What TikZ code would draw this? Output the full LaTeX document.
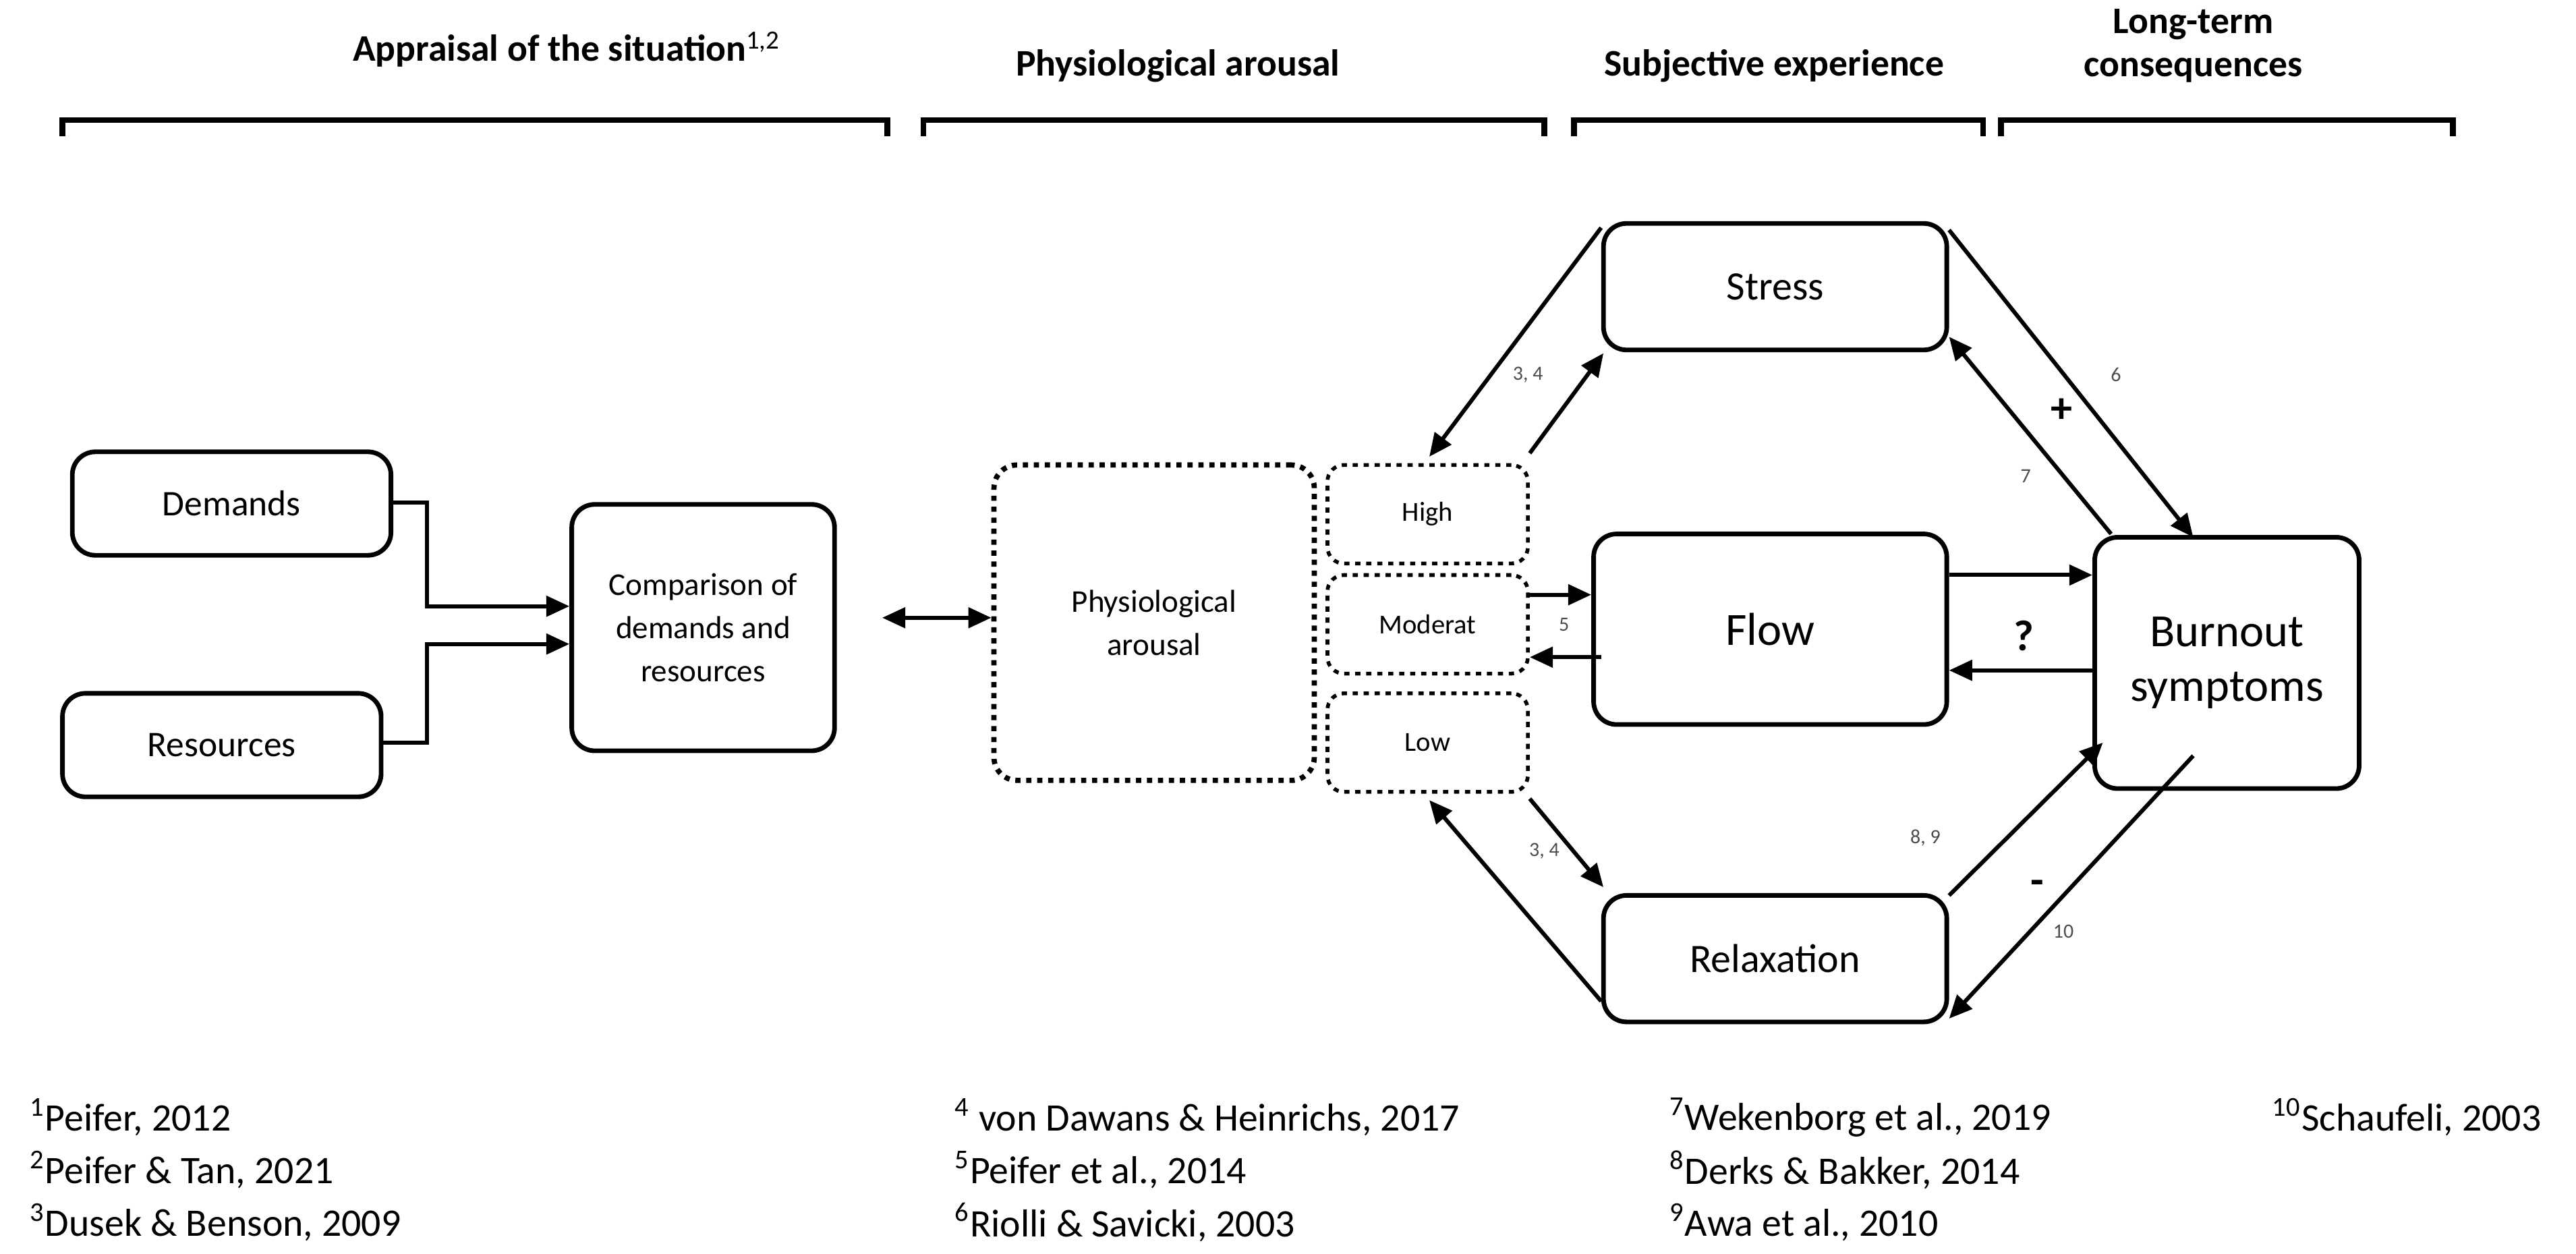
\documentclass[tikz,border=0pt]{standalone}
\usepackage{fontspec}
\setmainfont{Carlito}
\usetikzlibrary{arrows.meta}
\begin{document}
\begin{tikzpicture}[x=0.02cm,y=-0.02cm,
  box/.style={draw,line width=1.6pt,rounded corners=0.28cm,inner sep=0pt,align=center},
  dbox/.style={draw,line width=1.8pt,dotted,rounded corners=0.28cm,inner sep=0pt,align=center},
  arr/.style={line width=1.4pt,-{Triangle[length=8pt,width=7pt]}},
  darr/.style={line width=1.4pt,{Triangle[length=8pt,width=7pt]}-{Triangle[length=8pt,width=7pt]}},
  brk/.style={line width=2pt},
  hd/.style={font=\fontsize{13}{15}\selectfont\bfseries,align=center},
  sm/.style={font=\fontsize{7}{8}\selectfont,text=black!70},
  ref/.style={font=\fontsize{13.5}{15}\selectfont,anchor=west}]
\useasboundingbox (0,0) rectangle (1568,763);
% headings
\node[hd] (h1) at (345,30) {Appraisal of the situation\textsuperscript{\mdseries 1,2}};
\node[hd] (h2) at (717,40) {Physiological arousal};
\node[hd] (h3) at (1080,40) {Subjective experience};
\node[hd] (h4) at (1335,28) {Long-term\\consequences};
% brackets
\draw[brk] (38,83) -- (38,73) -- (540,73) -- (540,83);
\draw[brk] (562,83) -- (562,73) -- (940,73) -- (940,83);
\draw[brk] (958,83) -- (958,73) -- (1207,73) -- (1207,83);
\draw[brk] (1218,83) -- (1218,73) -- (1493,73) -- (1493,83);
% nodes
\node[box,minimum width=3.88cm,minimum height=1.26cm,font=\fontsize{12.5}{14}\selectfont] (dem) at (141,306.5) {Demands};
\node[box,minimum width=3.88cm,minimum height=1.26cm,font=\fontsize{12.5}{14}\selectfont] (res) at (135,453.5) {Resources};
\node[box,minimum width=3.2cm,minimum height=3.0cm,font=\fontsize{11}{15}\selectfont] (cmp) at (428,382) {Comparison of\\demands and\\resources};
\node[dbox,minimum width=3.9cm,minimum height=3.84cm,font=\fontsize{11}{15}\selectfont] (phy) at (702.5,379) {Physiological\\arousal};
\node[dbox,line width=1.3pt,rounded corners=0.2cm,minimum width=2.44cm,minimum height=1.2cm,font=\fontsize{9.5}{11}\selectfont] (hi) at (869,313) {High};
\node[dbox,line width=1.3pt,rounded corners=0.2cm,minimum width=2.44cm,minimum height=1.2cm,font=\fontsize{9.5}{11}\selectfont] (mo) at (869,380) {Moderat};
\node[dbox,line width=1.3pt,rounded corners=0.2cm,minimum width=2.44cm,minimum height=1.2cm,font=\fontsize{9.5}{11}\selectfont] (lo) at (869,452) {Low};
\node[box,minimum width=4.18cm,minimum height=1.54cm,font=\fontsize{14}{16}\selectfont] (st) at (1080.5,174.5) {Stress};
\node[box,minimum width=4.3cm,minimum height=2.32cm,font=\fontsize{16}{18}\selectfont] (fl) at (1077.5,383) {Flow};
\node[box,minimum width=4.18cm,minimum height=1.54cm,font=\fontsize{14}{16}\selectfont] (rx) at (1080.5,583.5) {Relaxation};
\node[box,minimum width=3.22cm,minimum height=3.06cm,font=\fontsize{16}{19}\selectfont] (bo) at (1355.5,403.5) {Burnout\\symptoms};
% coordinates
\coordinate (dj) at (260,306); \coordinate (rj) at (260,452);
% connectors
\draw[arr] (dem.east |- dj) -- (dj) -- (260,369) -- (cmp.west |- 0,369);
\draw[arr] (res.east |- rj) -- (rj) -- (260,392) -- (cmp.west |- 0,392);
\draw[darr] (537,376) -- (phy.west |- 0,376);
\draw[arr] (st.north west) ++(0,4) -- (870,278);
\draw[arr] (hi.north east) ++(0,-6) -- (976,215);
\draw[arr] (mo.east |- 0,362) -- (fl.west |- 0,362);
\draw[arr] (fl.west |- 0,400) ++(6,0) -- (mo.east |- 0,400);
\draw[arr] (lo.south east) ++(0,3) -- (976,540);
\draw[arr] (rx.south west) ++(0,-14) -- (870,487);
\draw[arr] (st.east |- 0,140) -- (1335,327);
\draw[arr] (1285,325) -- (st.east |- 0,205);
\draw[arr] (fl.east |- 0,350) -- (bo.west |- 0,350);
\draw[arr] (bo.west |- 0,408) -- (fl.east |- 0,408);
\draw[arr] (rx.east |- 0,545) -- (1280,452);
\draw[arr] (1335,460) -- (rx.east |- 0,620);
% labels
\node[sm] (l1) at (930,228) {3, 4};
\node[sm] (l2) at (952,380) {5};
\node[sm] (l3) at (940,518) {3, 4};
\node[sm] (l4) at (1288,228) {6};
\node[sm] (l5) at (1233,290) {7};
\node[sm] (l6) at (1172,510) {8, 9};
\node[sm] (l7) at (1256,567) {10};
\node[font=\fontsize{15}{17}\selectfont\bfseries] (pl) at (1255,250) {+};
\node[font=\fontsize{15}{17}\selectfont\bfseries] (qm) at (1232,387) {?};
\node[font=\fontsize{15}{17}\selectfont\bfseries] (mi) at (1240,540) {-};
% references
\node[ref] (r1) at (12,680) {\textsuperscript{1}Peifer, 2012};
\node[ref] (r2) at (12,712) {\textsuperscript{2}Peifer \& Tan, 2021};
\node[ref] (r3) at (12,744) {\textsuperscript{3}Dusek \& Benson, 2009};
\node[ref] (r4) at (575,680) {\textsuperscript{4} von Dawans \& Heinrichs, 2017};
\node[ref] (r5) at (575,712) {\textsuperscript{5}Peifer et al., 2014};
\node[ref] (r6) at (575,744) {\textsuperscript{6}Riolli \& Savicki, 2003};
\node[ref] (r7) at (1010,680) {\textsuperscript{7}Wekenborg et al., 2019};
\node[ref] (r8) at (1010,712) {\textsuperscript{8}Derks \& Bakker, 2014};
\node[ref] (r9) at (1010,744) {\textsuperscript{9}Awa et al., 2010};
\node[ref] (r10) at (1377,680) {\textsuperscript{10}Schaufeli, 2003};
\end{tikzpicture}
\end{document}
